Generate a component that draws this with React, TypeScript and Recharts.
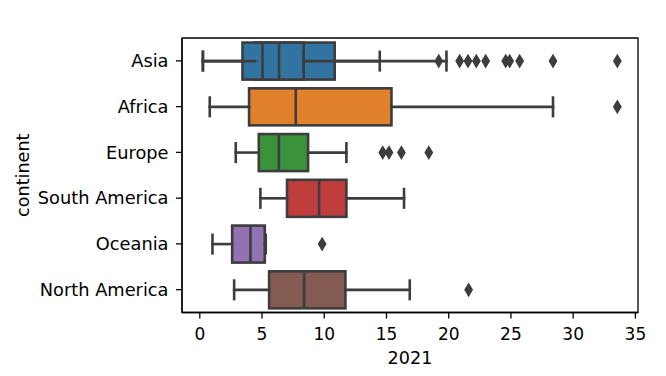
import React from 'react';
import { ComposedChart, Bar, XAxis, YAxis, Label, ReferenceArea } from 'recharts';

// ---- data ----
const continents = ['Asia', 'Africa', 'Europe', 'South America', 'Oceania', 'North America'];

// one entry per drawn box group (Asia holds three overlapping groups), in drawing order
const groupContinent = ['Asia', 'Asia', 'Asia', 'Africa', 'Europe', 'South America', 'Oceania', 'North America'];
const groupLow = [0.25, 8.35, 0.25, 0.8, 2.89, 4.87, 1.02, 2.76];
const groupQ1 = [4.44, 8.35, 3.43, 3.96, 4.74, 7.01, 2.6, 5.57];
const groupMedian = [6.37, 8.35, 5.04, 7.71, 6.35, 9.59, 4.07, 8.38];
const groupQ3 = [8.35, 8.35, 10.84, 15.4, 8.7, 11.78, 5.22, 11.7];
const groupHigh = [14.46, 8.35, 19.82, 28.38, 11.78, 16.41, 5.3, 16.87];
const groupOutliers: number[][] = [
  [19.2],
  [],
  [20.88, 21.55, 22.22, 22.97, 24.58, 24.9, 25.7, 28.38, 33.55],
  [33.55],
  [14.7, 15.2, 16.2, 18.4],
  [],
  [9.83],
  [21.6],
];
const xTicks = [0, 5, 10, 15, 20, 25, 30, 35];
const xDomain = [-1.43, 35.21];
const xLabel = '2021';
const yLabel = 'continent';

// ---- styles ----
const palette: Record<string, string> = {
  Asia: '#3274a1',
  Africa: '#e1812c',
  Europe: '#3a923a',
  'South America': '#c03d3e',
  Oceania: '#9372b2',
  'North America': '#845b53',
};
const GRAY = '#3d3d3d';
const LW = 2.6;
const FONT = 'DejaVu Sans';
const FS_X = 17;
const FS_Y = 17.8;
const FS_LABEL = 17.6;

type Group = { lo: number; q1: number; med: number; q3: number; hi: number; fliers: number[] };

const rows = continents.map((c) => {
  const groups: Group[] = [];
  groupContinent.forEach((gc, i) => {
    if (gc === c) {
      groups.push({
        lo: groupLow[i],
        q1: groupQ1[i],
        med: groupMedian[i],
        q3: groupQ3[i],
        hi: groupHigh[i],
        fliers: groupOutliers[i],
      });
    }
  });
  const all: number[] = [];
  groups.forEach((g) => {
    all.push(g.lo, g.hi, ...g.fliers);
  });
  return { continent: c, groups, range: [Math.min(...all), Math.max(...all)] };
});

const BoxShape = (props: any) => {
  const { x, y, width, height, payload } = props;
  if (!payload) return null;
  const [r0, r1] = payload.range as number[];
  const left = width >= 0 ? x : x + width;
  const w = Math.abs(width);
  const px = (v: number) => left + ((v - r0) / (r1 - r0)) * w;
  const cy = y + height / 2;
  const top = y;
  const bh = height;
  const capHalf = height / 4;
  const color = palette[payload.continent];
  const groups: Group[] = payload.groups;
  const patches: React.ReactNode[] = [];
  const lines: React.ReactNode[] = [];
  const meds: React.ReactNode[] = [];
  groups.forEach((g, i) => {
    patches.push(
      <rect
        key={'p' + i}
        x={px(g.q1)}
        y={top}
        width={px(g.q3) - px(g.q1)}
        height={bh}
        fill={color}
        stroke={GRAY}
        strokeWidth={LW}
      />
    );
    lines.push(
      <line key={'wl' + i} x1={px(g.q1)} x2={px(g.lo)} y1={cy} y2={cy} stroke={GRAY} strokeWidth={LW} strokeLinecap="square" />,
      <line key={'wh' + i} x1={px(g.q3)} x2={px(g.hi)} y1={cy} y2={cy} stroke={GRAY} strokeWidth={LW} strokeLinecap="square" />,
      <line key={'cl' + i} x1={px(g.lo)} x2={px(g.lo)} y1={cy - capHalf} y2={cy + capHalf} stroke={GRAY} strokeWidth={LW} strokeLinecap="square" />,
      <line key={'ch' + i} x1={px(g.hi)} x2={px(g.hi)} y1={cy - capHalf} y2={cy + capHalf} stroke={GRAY} strokeWidth={LW} strokeLinecap="square" />
    );
    g.fliers.forEach((f, j) => {
      const fx = px(f);
      lines.push(
        <path
          key={'f' + i + '-' + j}
          d={`M${fx},${cy - 6} L${fx + 3.6},${cy} L${fx},${cy + 6} L${fx - 3.6},${cy} Z`}
          fill={GRAY}
          stroke={GRAY}
          strokeWidth={1.4}
          strokeLinejoin="miter"
        />
      );
    });
    meds.push(
      <line key={'m' + i} x1={px(g.med)} x2={px(g.med)} y1={top} y2={top + bh} stroke={GRAY} strokeWidth={LW} />
    );
  });
  return (
    <g>
      {patches}
      {lines}
      {meds}
    </g>
  );
};

const axisStroke = { stroke: '#000', strokeWidth: 1.3 };

export default function App() {
  return (
    <div style={{ position: 'absolute', left: 0, top: 0, width: 666, height: 376, background: '#fff' }}>
      <ComposedChart
        width={666}
        height={376}
        data={rows}
        layout="vertical"
        margin={{ top: 38, right: 28, bottom: 0, left: 0 }}
        barCategoryGap="10%"
        style={{ fontFamily: FONT }}
      >
        <XAxis
          type="number"
          dataKey="range"
          domain={xDomain}
          ticks={xTicks}
          allowDataOverflow
          height={63.5}
          axisLine={axisStroke}
          tickLine={axisStroke}
          tickSize={6}
          tickMargin={9}
          tick={{ fill: '#000', fontSize: FS_X, fontFamily: FONT }}
          interval={0}
        >
          <Label
            content={(p: any) => {
              const vb = p.viewBox;
              return (
                <text
                  x={vb.x + vb.width / 2}
                  y={vb.y + 51}
                  textAnchor="middle"
                  fill="#000"
                  fontSize={FS_LABEL}
                  fontFamily={FONT}
                >
                  {xLabel}
                </text>
              );
            }}
          />
        </XAxis>
        <YAxis
          type="category"
          dataKey="continent"
          width={182}
          axisLine={axisStroke}
          tickLine={axisStroke}
          tickSize={6}
          tickMargin={7.5}
          tick={{ fill: '#000', fontSize: FS_Y, fontFamily: FONT }}
          interval={0}
        >
          <Label
            content={(p: any) => {
              const vb = p.viewBox;
              const cx = 29;
              const cy = vb.y + vb.height / 2;
              return (
                <text
                  x={cx}
                  y={cy}
                  textAnchor="middle"
                  transform={`rotate(-90, ${cx}, ${cy})`}
                  fill="#000"
                  fontSize={FS_LABEL}
                  fontFamily={FONT}
                >
                  {yLabel}
                </text>
              );
            }}
          />
        </YAxis>
        <ReferenceArea
          x1={xDomain[0]}
          x2={xDomain[1]}
          fill="none"
          fillOpacity={0}
          stroke="#000"
          strokeWidth={1.3}
          ifOverflow="visible"
        />
        <Bar dataKey="range" shape={<BoxShape />} isAnimationActive={false} />
      </ComposedChart>
    </div>
  );
}
